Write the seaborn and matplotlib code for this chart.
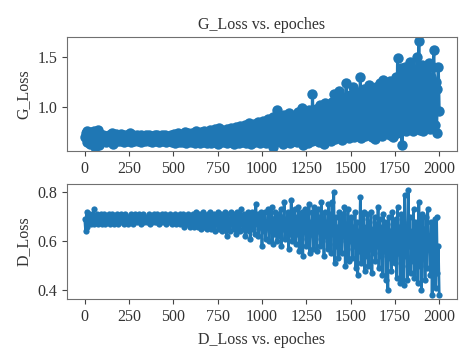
import matplotlib
matplotlib.use("Agg")
import matplotlib.pyplot as plt
import seaborn as sns
import pandas as pd

epochs = list(range(0, 2001, 5))

g_loss = [
    0.70, 0.74, 0.65, 0.76, 0.67, 0.72, 0.63, 0.75, 0.68, 0.71,
    0.66, 0.76, 0.60, 0.74, 0.64, 0.77, 0.62, 0.73, 0.67, 0.70,
    0.66, 0.72, 0.68, 0.71, 0.65, 0.70, 0.69, 0.72, 0.66, 0.71,
    0.68, 0.74, 0.63, 0.71, 0.67, 0.73, 0.66, 0.70, 0.68, 0.72,
    0.66, 0.73, 0.68, 0.71, 0.65, 0.72, 0.67, 0.70, 0.66, 0.72,
    0.67, 0.74, 0.65, 0.71, 0.68, 0.72, 0.66, 0.70, 0.67, 0.72,
    0.66, 0.71, 0.68, 0.72, 0.65, 0.70, 0.67, 0.71, 0.66, 0.72,
    0.67, 0.71, 0.66, 0.72, 0.68, 0.70, 0.65, 0.71, 0.67, 0.72,
    0.66, 0.72, 0.68, 0.70, 0.65, 0.71, 0.67, 0.72, 0.66, 0.70,
    0.67, 0.72, 0.65, 0.71, 0.68, 0.70, 0.66, 0.72, 0.65, 0.71,
    0.66, 0.73, 0.64, 0.71, 0.68, 0.74, 0.65, 0.72, 0.67, 0.70,
    0.65, 0.73, 0.67, 0.75, 0.64, 0.71, 0.68, 0.74, 0.66, 0.72,
    0.65, 0.74, 0.67, 0.72, 0.64, 0.76, 0.68, 0.73, 0.66, 0.71,
    0.64, 0.75, 0.67, 0.72, 0.65, 0.76, 0.68, 0.74, 0.64, 0.72,
    0.66, 0.77, 0.64, 0.73, 0.68, 0.75, 0.65, 0.78, 0.67, 0.72,
    0.63, 0.79, 0.66, 0.74, 0.68, 0.77, 0.65, 0.73, 0.67, 0.76,
    0.64, 0.78, 0.67, 0.74, 0.65, 0.79, 0.68, 0.75, 0.63, 0.77,
    0.66, 0.80, 0.69, 0.76, 0.64, 0.81, 0.67, 0.75, 0.65, 0.79,
    0.67, 0.82, 0.64, 0.77, 0.70, 0.84, 0.66, 0.79, 0.63, 0.81,
    0.68, 0.83, 0.65, 0.78, 0.71, 0.85, 0.66, 0.80, 0.64, 0.82,
    0.67, 0.86, 0.71, 0.80, 0.64, 0.84, 0.69, 0.88, 0.66, 0.78,
    0.72, 0.85, 0.60, 0.90, 0.68, 0.82, 0.65, 0.97, 0.70, 0.83,
    0.66, 0.89, 0.73, 0.84, 0.63, 0.92, 0.69, 0.86, 0.67, 0.90,
    0.71, 0.94, 0.64, 0.85, 0.74, 0.91, 0.66, 0.88, 0.70, 0.93,
    0.65, 0.95, 0.72, 0.87, 0.67, 0.99, 0.62, 0.90, 0.75, 0.96,
    0.68, 0.92, 0.64, 0.97, 0.73, 0.88, 0.66, 1.13, 0.70, 0.94,
    0.67, 0.98, 0.75, 0.90, 0.65, 1.02, 0.71, 0.94, 0.68, 0.99,
    0.63, 1.04, 0.74, 0.92, 0.69, 1.00, 0.77, 0.95, 0.66, 1.05,
    0.72, 1.13, 0.68, 0.97, 0.79, 1.06, 0.70, 1.16, 0.74, 1.01,
    0.67, 1.10, 0.78, 0.99, 0.71, 1.24, 0.75, 1.05, 0.69, 1.12,
    0.73, 1.08, 0.80, 1.20, 0.70, 1.02, 0.77, 1.15, 0.72, 1.10,
    0.82, 1.30, 0.69, 1.06, 0.76, 1.18, 0.71, 1.12, 0.79, 1.04,
    0.74, 1.22, 0.83, 1.09, 0.70, 1.17, 0.78, 1.05, 0.68, 1.20,
    0.81, 1.15, 0.72, 1.24, 0.77, 1.08, 0.71, 1.27, 0.84, 1.12,
    0.75, 1.20, 0.86, 1.10, 0.72, 1.26, 0.80, 1.14, 0.70, 1.22,
    0.83, 1.30, 0.74, 1.49, 0.88, 1.12, 0.77, 1.39, 0.62, 1.25,
    0.80, 1.40, 0.76, 1.18, 0.90, 1.32, 0.78, 1.45, 0.84, 1.21,
    0.76, 1.38, 0.92, 1.26, 0.79, 1.50, 0.85, 1.66, 0.77, 1.35,
    0.88, 1.42, 0.76, 1.28, 0.93, 1.36, 0.80, 1.22, 0.87, 1.44,
    0.78, 1.30, 0.90, 1.40, 1.57, 0.82, 1.25, 0.74, 1.18, 1.40,
    0.96,
]

d_loss = [
    0.69, 0.64, 0.72, 0.66, 0.70, 0.68, 0.71, 0.67, 0.70, 0.68,
    0.73, 0.67, 0.70, 0.68, 0.71, 0.67, 0.70, 0.68, 0.71, 0.67,
    0.70, 0.68, 0.71, 0.67, 0.69, 0.70, 0.68, 0.71, 0.67, 0.70,
    0.68, 0.71, 0.69, 0.67, 0.70, 0.68, 0.71, 0.69, 0.67, 0.70,
    0.69, 0.71, 0.68, 0.70, 0.67, 0.71, 0.69, 0.68, 0.70, 0.67,
    0.70, 0.68, 0.71, 0.69, 0.67, 0.70, 0.68, 0.71, 0.69, 0.68,
    0.69, 0.71, 0.68, 0.70, 0.67, 0.69, 0.71, 0.68, 0.70, 0.69,
    0.68, 0.70, 0.69, 0.71, 0.67, 0.70, 0.68, 0.69, 0.71, 0.68,
    0.70, 0.68, 0.71, 0.69, 0.67, 0.70, 0.68, 0.71, 0.69, 0.68,
    0.69, 0.71, 0.67, 0.70, 0.68, 0.69, 0.71, 0.68, 0.70, 0.67,
    0.70, 0.68, 0.71, 0.67, 0.69, 0.70, 0.68, 0.71, 0.67, 0.69,
    0.68, 0.71, 0.66, 0.70, 0.69, 0.67, 0.71, 0.68, 0.70, 0.66,
    0.70, 0.67, 0.71, 0.66, 0.69, 0.72, 0.67, 0.70, 0.66, 0.71,
    0.68, 0.65, 0.71, 0.67, 0.72, 0.66, 0.70, 0.68, 0.65, 0.71,
    0.67, 0.72, 0.65, 0.70, 0.68, 0.66, 0.71, 0.64, 0.70, 0.67,
    0.72, 0.65, 0.69, 0.67, 0.71, 0.64, 0.70, 0.66, 0.72, 0.68,
    0.62, 0.71, 0.66, 0.69, 0.64, 0.72, 0.67, 0.70, 0.65, 0.71,
    0.68, 0.63, 0.72, 0.66, 0.70, 0.64, 0.73, 0.67, 0.69, 0.65,
    0.71, 0.62, 0.69, 0.66, 0.72, 0.64, 0.70, 0.61, 0.68, 0.72,
    0.65, 0.70, 0.63, 0.75, 0.67, 0.71, 0.62, 0.69, 0.66, 0.72,
    0.58, 0.70, 0.64, 0.72, 0.61, 0.68, 0.66, 0.73, 0.60, 0.70,
    0.65, 0.74, 0.59, 0.69, 0.63, 0.72, 0.67, 0.60, 0.71, 0.66,
    0.62, 0.73, 0.58, 0.70, 0.65, 0.76, 0.61, 0.69, 0.64, 0.72,
    0.57, 0.71, 0.63, 0.77, 0.60, 0.68, 0.65, 0.73, 0.59, 0.70,
    0.63, 0.74, 0.56, 0.69, 0.61, 0.72, 0.54, 0.70, 0.64, 0.73,
    0.58, 0.71, 0.62, 0.75, 0.55, 0.68, 0.63, 0.72, 0.57, 0.74,
    0.61, 0.69, 0.56, 0.73, 0.64, 0.70, 0.58, 0.76, 0.60, 0.67,
    0.54, 0.72, 0.62, 0.68, 0.57, 0.75, 0.59, 0.71, 0.55, 0.76,
    0.63, 0.80, 0.51, 0.70, 0.58, 0.66, 0.53, 0.72, 0.60, 0.68,
    0.55, 0.71, 0.62, 0.74, 0.50, 0.67, 0.57, 0.73, 0.52, 0.69,
    0.60, 0.70, 0.53, 0.66, 0.58, 0.72, 0.49, 0.68, 0.46, 0.64,
    0.56, 0.78, 0.51, 0.69, 0.59, 0.72, 0.48, 0.66, 0.54, 0.71,
    0.50, 0.68, 0.57, 0.72, 0.47, 0.65, 0.55, 0.70, 0.52, 0.67,
    0.58, 0.74, 0.49, 0.69, 0.54, 0.66, 0.46, 0.71, 0.56, 0.68,
    0.44, 0.67, 0.40, 0.70, 0.53, 0.64, 0.48, 0.72, 0.57, 0.62,
    0.51, 0.69, 0.45, 0.74, 0.55, 0.66, 0.43, 0.71, 0.50, 0.68,
    0.42, 0.79, 0.54, 0.66, 0.44, 0.81, 0.58, 0.70, 0.47, 0.64,
    0.52, 0.73, 0.45, 0.68, 0.56, 0.62, 0.43, 0.76, 0.50, 0.70,
    0.40, 0.71, 0.54, 0.65, 0.44, 0.70, 0.49, 0.73, 0.57, 0.62,
    0.46, 0.68, 0.38, 0.60, 0.52, 0.69, 0.41, 0.70, 0.47, 0.58,
    0.38,
]

xticks = [0, 250, 500, 750, 1000, 1250, 1500, 1750, 2000]

sns.set_theme(style="ticks")
plt.rcParams["font.family"] = ["Liberation Serif", "DejaVu Serif"]
plt.rcParams["axes.edgecolor"] = "#707070"
plt.rcParams["xtick.color"] = "#444444"
plt.rcParams["ytick.color"] = "#444444"
plt.rcParams["xtick.labelcolor"] = "#333333"
plt.rcParams["ytick.labelcolor"] = "#333333"
plt.rcParams["text.color"] = "#333333"
plt.rcParams["axes.labelcolor"] = "#333333"

df = pd.DataFrame({"epoch": epochs, "G_Loss": g_loss, "D_Loss": d_loss})
blue = "#1f77b4"

fig = plt.figure(figsize=(4.74, 3.62), dpi=100)
ax1 = fig.add_axes([0.1414, 0.583, 0.8226, 0.315])
ax2 = fig.add_axes([0.1414, 0.174, 0.8226, 0.318])

sns.lineplot(data=df, x="epoch", y="G_Loss", ax=ax1, color=blue, marker="o",
             markersize=7.5, markeredgewidth=0, linewidth=2.2)
sns.lineplot(data=df, x="epoch", y="D_Loss", ax=ax2, color=blue, marker="o",
             markersize=4.5, markeredgewidth=0, linewidth=2.0)

fs = 11.5
ax1.set_title("G_Loss vs. epoches", fontsize=fs, pad=6)
ax1.set_xlabel("")
ax1.set_ylabel("G_Loss", fontsize=fs)
ax2.set_xlabel("D_Loss vs. epoches", fontsize=fs, labelpad=5)
ax2.set_ylabel("D_Loss", fontsize=fs)

for ax in (ax1, ax2):
    ax.set_xticks(xticks)
    ax.set_xlim(-100, 2100)
    ax.tick_params(labelsize=fs, length=3.5, width=0.8)
    for s in ax.spines.values():
        s.set_visible(True)
        s.set_linewidth(0.8)

ax1.set_yticks([1.0, 1.5])
ax1.set_ylim(0.56, 1.70)
ax2.set_yticks([0.4, 0.6, 0.8])
ax2.set_ylim(0.364, 0.834)

fig.savefig("out.png", dpi=100)
